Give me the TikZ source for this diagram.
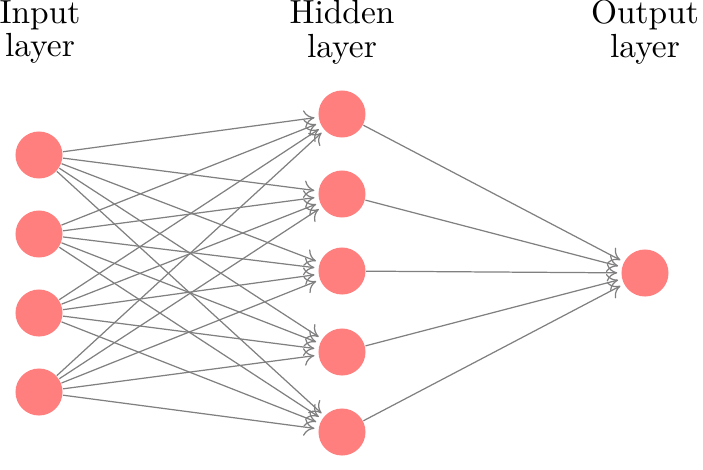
\documentclass[tikz,border=0pt]{standalone}
\usetikzlibrary{arrows.meta}
\definecolor{neuron}{HTML}{FF7F7F}
\begin{document}
\begin{tikzpicture}[x=0.01cm,y=-0.01cm,
  neuronnode/.style={circle,fill=neuron,minimum size=0.47cm,inner sep=0pt},
  conn/.style={draw=gray,line width=0.35pt,-{To[length=3pt,width=5pt]},shorten >=1pt},
  lbl/.style={align=center,font=\fontsize{9.5}{9.6}\selectfont}]
\useasboundingbox (0,0) rectangle (703,469);
\foreach \i/\y in {1/155,2/234,3/313,4/392}
  \node[neuronnode] (I-\i) at (39,\y) {};
\foreach \i/\y in {1/114,2/194,3/271,4/352,5/432}
  \node[neuronnode] (H-\i) at (342,\y) {};
\node[neuronnode] (O) at (645,273) {};
\foreach \s in {1,...,4}
  \foreach \d in {1,...,5}
    \path[conn] (I-\s) -- (H-\d);
\foreach \s in {1,...,5}
  \path[conn] (H-\s) -- (O);
\node[lbl] (li) at (40,32) {Input\\layer};
\node[lbl] (lh) at (342,32) {Hidden\\layer};
\node[lbl] (lo) at (645,32) {Output\\layer};
\end{tikzpicture}
\end{document}
